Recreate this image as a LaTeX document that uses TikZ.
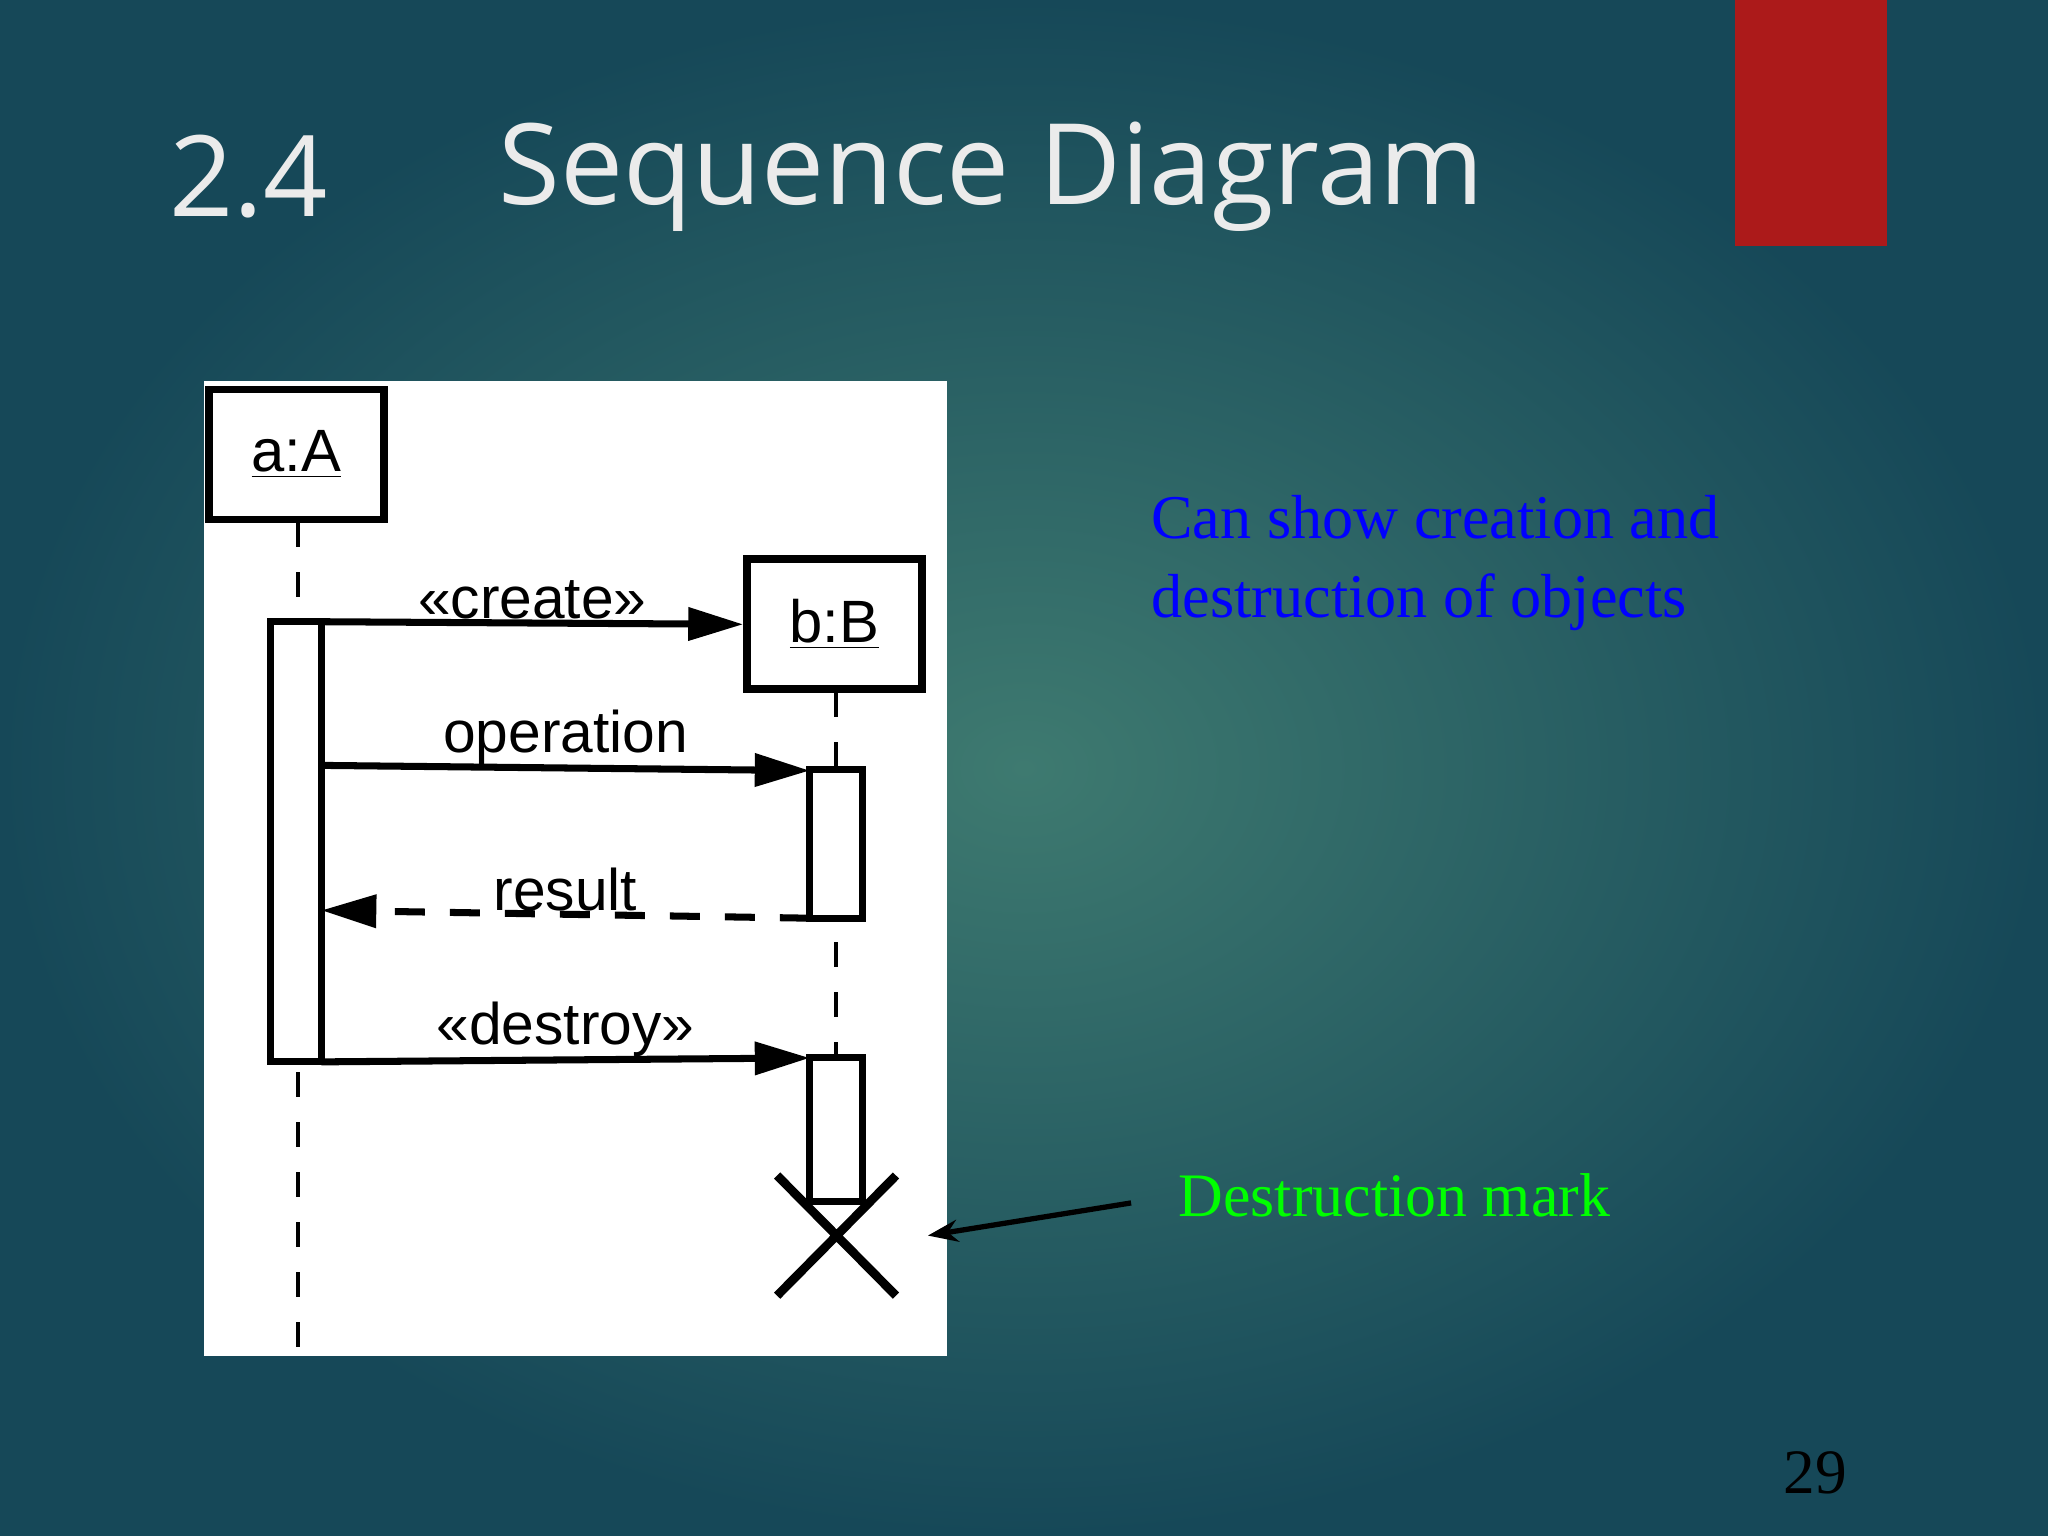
\documentclass[tikz,border=0pt]{standalone}
\usepackage{fontspec}
\setmainfont{Liberation Serif}
\newfontfamily\titlefont{Open Sans}
\newfontfamily\umlfont{Liberation Sans}
\usetikzlibrary{arrows.meta}
\definecolor{bginner}{RGB}{62,122,112}
\definecolor{bgouter}{RGB}{22,72,88}
\definecolor{slidered}{RGB}{172,26,26}
\tikzset{
  objbox/.style = {draw, line width=2.2pt, fill=white, minimum width=1.75cm, minimum height=1.3cm, font=\umlfont\fontsize{17}{20}\selectfont},
  actbar/.style = {draw, line width=2pt, fill=white},
  lifeline/.style = {line width=1pt, dash pattern=on 0.25cm off 0.25cm},
  msg/.style = {line width=2pt, -{Triangle[length=0.55cm, width=0.32cm]}},
  msglabel/.style = {font=\umlfont\fontsize{16.7}{20}\selectfont, above, inner sep=0pt}
}
\begin{document}
\begin{tikzpicture}[x=0.01306cm, y=-0.01306cm]
  \useasboundingbox (0, 0) rectangle (1568, 1176);
  \shade[inner color=bginner, outer color=bgouter] (0, 0) rectangle (1568, 1176);
  \fill[slidered] (1328, 0) rectangle (1445, 188);

  % title
  \node[anchor=west, text=white!92!black, font=\titlefont\fontsize{32}{38}\selectfont] (num) at (120, 135) {2.4};
  \node[anchor=west, text=white!92!black, font=\titlefont\fontsize{32}{38}\selectfont] (title) at (372, 135) {Sequence Diagram};

  % white panel
  \fill[white] (156, 292) rectangle (725, 1038);

  % lifelines
  \draw[lifeline] (228, 400) -- (228, 1038);
  \draw[lifeline] (640, 530) -- (640, 900);

  % activations
  \draw[actbar] (207, 476) rectangle (246, 813);
  \draw[actbar] (620, 589) rectangle (660, 703);
  \draw[actbar] (620, 810) rectangle (660, 920);

  % objects
  \node[objbox] (objA) at (227, 348) {\underline{a:A}};
  \node[objbox] (objB) at (639, 478) {\underline{b:B}};

  % messages
  \coordinate (createS) at (246, 476);
  \draw[msg] (createS) -- (objB.west) node[msglabel, pos=0.5] {«create»};
  \coordinate (opS) at (246, 586);
  \coordinate (opE) at (620, 590);
  \draw[msg] (opS) -- (opE) node[msglabel, pos=0.5] {operation};
  \coordinate (resS) at (620, 703);
  \coordinate (resE) at (246, 697);
  \draw[msg, dash pattern=on 0.3cm off 0.25cm] (resS) -- (resE) node[msglabel, pos=0.5] {result};
  \coordinate (desS) at (246, 813);
  \coordinate (desE) at (620, 810);
  \draw[msg] (desS) -- (desE) node[msglabel, pos=0.5] {«destroy»};

  % destruction mark
  \coordinate (xmark) at (640, 946);
  \draw[line width=2.5pt] (595, 900) -- (686, 992) (686, 900) -- (595, 992);

  % notes
  \node[anchor=west, text=blue, font=\fontsize{17.7}{21}\selectfont] (note1) at (872, 396) {Can show creation and};
  \node[anchor=west, text=blue, font=\fontsize{17.7}{21}\selectfont] (note2) at (872, 461) {destruction of objects};
  \node[anchor=west, text=green, font=\fontsize{17.6}{21}\selectfont] (mark) at (893, 915) {Destruction mark};
  \draw[line width=1.5pt, -{Stealth[length=0.3cm, width=0.22cm]}] (mark.west) ++(-27, 6) -- ([xshift=0.92cm]xmark);

  \node[text=black, font=\fontsize{18}{22}\selectfont] (page) at (1390, 1128) {29};
\end{tikzpicture}
\end{document}
